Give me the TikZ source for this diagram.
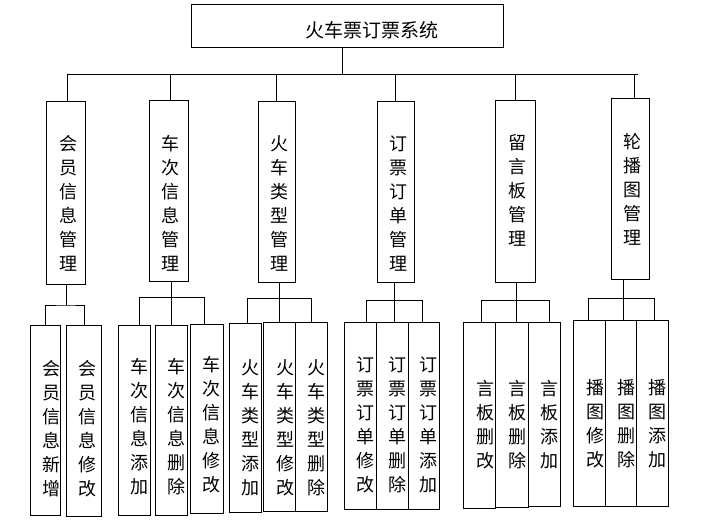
\documentclass[tikz,border=0pt]{standalone}
\usepackage{fontspec}
\newfontfamily\cjk{Noto Sans CJK SC}
\usetikzlibrary{fit,positioning}
\tikzset{
  bx/.style={draw=black,line width=1pt,inner sep=0pt,outer sep=0pt},
  vt/.style={align=center,inner sep=0pt,font=\cjk\fontsize{18}{24}\selectfont},
  ln/.style={draw=black,line width=1pt},
}
\begin{document}
\begin{tikzpicture}[x=1pt,y=-1pt]
\path[fill=white,use as bounding box] (0,0) rectangle (711,528);
% top
\node[bx,fit={(191.8,4.3)(503.6,47.3)}] (top) {};
\node[vt,font=\cjk\fontsize{19}{24}\selectfont] (topt) at (372,30) {火车票订票系统};
% modules
\node[bx,fit={(46.3,101.3)(85.7,284.3)}]   (hy) {};
\node[bx,fit={(149.3,100.3)(188.7,281.7)}] (cc) {};
\node[bx,fit={(258.3,101.3)(295.7,282.3)}] (hc) {};
\node[bx,fit={(377.3,101.3)(414.3,282.3)}] (dp) {};
\node[bx,fit={(495.3,100.3)(535.3,282.3)}] (ly) {};
\node[bx,fit={(611.3,98.3)(649.7,279.3)}]  (lb) {};
\node[vt] (hyt) at (68,203.3)    {会\\员\\信\\息\\管\\理};
\node[vt] (cct) at (170.7,203.3) {车\\次\\信\\息\\管\\理};
\node[vt] (hct) at (279,203.3)   {火\\车\\类\\型\\管\\理};
\node[vt] (dpt) at (398.7,203.3) {订\\票\\订\\单\\管\\理};
\node[vt] (lyt) at (517,190.7)   {留\\言\\板\\管\\理};
\node[vt] (lbt) at (632.3,189.2) {轮\\播\\图\\管\\理};
% functions
\node[bx,fit={(30.3,325.3)(60.3,515.3)}]   (hy1) {};
\node[bx,fit={(66.7,325.3)(101.3,516.3)}]  (hy2) {};
\node[bx,fit={(118.3,325.3)(150.3,515.3)}] (cc1) {};
\node[bx,fit={(155.3,325.3)(187.3,515.3)}] (cc2) {};
\node[bx,fit={(190.3,324.3)(223.3,513.3)}] (cc3) {};
\node[bx,fit={(229.3,323.3)(261.3,512.3)}] (hc1) {};
\node[bx,fit={(263.7,322.3)(295.7,511)}]   (hc2) {};
\node[bx,fit={(295.7,322.3)(327.3,511)}]   (hc3) {};
\node[bx,fit={(344.3,322.3)(376.3,509.3)}] (dp1) {};
\node[bx,fit={(376.3,322.3)(408.3,509.3)}] (dp2) {};
\node[bx,fit={(408.3,322.3)(439.3,509.3)}] (dp3) {};
\node[bx,fit={(463.7,322.3)(495.3,508.3)}] (ly1) {};
\node[bx,fit={(495.3,322.3)(528.7,507.3)}] (ly2) {};
\node[bx,fit={(528.7,322.3)(560.3,506.3)}] (ly3) {};
\node[bx,fit={(573.7,320.7)(605.3,506.3)}] (lb1) {};
\node[bx,fit={(605.3,320.7)(636.3,506.3)}] (lb2) {};
\node[bx,fit={(636.3,320.7)(668.3,506.3)}] (lb3) {};
\node[vt] (hy1t) at (51.7,428.3)  {会\\员\\信\\息\\新\\增};
\node[vt] (hy2t) at (87.3,428.3)  {会\\员\\信\\息\\修\\改};
\node[vt] (cc1t) at (139.3,426.7) {车\\次\\信\\息\\添\\加};
\node[vt] (cc2t) at (176,426.7)   {车\\次\\信\\息\\删\\除};
\node[vt] (cc3t) at (211.7,425)   {车\\次\\信\\息\\修\\改};
\node[vt] (hc1t) at (250.7,427.5) {火\\车\\类\\型\\添\\加};
\node[vt] (hc2t) at (285,427.5)   {火\\车\\类\\型\\修\\改};
\node[vt] (hc3t) at (316,427.5)   {火\\车\\类\\型\\删\\除};
\node[vt] (dp1t) at (365.7,425)   {订\\票\\订\\单\\修\\改};
\node[vt] (dp2t) at (397.3,425)   {订\\票\\订\\单\\删\\除};
\node[vt] (dp3t) at (428.3,425)   {订\\票\\订\\单\\添\\加};
\node[vt] (ly1t) at (485.7,425)   {言\\板\\删\\改};
\node[vt] (ly2t) at (517.3,425)   {言\\板\\删\\除};
\node[vt] (ly3t) at (549.3,425)   {言\\板\\添\\加};
\node[vt] (lb1t) at (595,423.3)   {播\\图\\修\\改};
\node[vt] (lb2t) at (626.7,423.3) {播\\图\\删\\除};
\node[vt] (lb3t) at (657.3,423.3) {播\\图\\添\\加};
% main bus
\coordinate (bus) at (342,74);
\draw[ln] (top.south -| bus) -- (bus);
\draw[ln] ([xshift=1.5]hy.north |- bus) -- ([xshift=7]lb.north |- bus);
\foreach \m/\s in {hy/1.3,cc/1.7,hc/-0.7,dp/0,ly/0.4,lb/3.8}
  \draw[ln] ([xshift=\s]\m.north |- bus) -- ([xshift=\s]\m.north);
% sub buses
\draw[ln] ([xshift=0.7]hy.south) -- ++(0,20.7) coordinate (hyb);
\draw[ln] (hy1.north) |- (hyb) -| (hy2.north);
\draw[ln] ([xshift=2.3]cc.south) -- ++(0,15.8) coordinate (ccb);
\draw[ln] ([xshift=5]cc1.north) |- (ccb) -| ([xshift=-2.8]cc3.north);
\draw[ln] (ccb) -- (ccb |- cc2.north);
\draw[ln] ([xshift=2.3]hc.south) -- ++(0,16) coordinate (hcb);
\draw[ln] ([xshift=2.4]hc1.north) |- (hcb) -| (hc3.north);
\draw[ln] (hcb) -- (hcb |- hc2.north);
\draw[ln] ([xshift=-1.5]dp.south) -- ++(0,18.4) coordinate (dpb);
\draw[ln] ([xshift=6]dp1.north) |- (dpb) -| ([xshift=-1.5]dp3.north);
\draw[ln] (dpb) -- (dpb |- dp2.north);
\draw[ln] ([xshift=1]ly.south) -- ++(0,18.4) coordinate (lyb);
\draw[ln] ([xshift=2.2]ly1.north) |- (lyb) -| ([xshift=4.8]ly3.north);
\draw[ln] (lyb) -- (lyb |- ly2.north);
\draw[ln] ([xshift=-7.2]lb.south) -- ++(0,19) coordinate (lbb);
\draw[ln] ([xshift=-1.2]lb1.north) |- (lbb) -| ([xshift=2]lb3.north);
\draw[ln] (lbb) -- (lbb |- lb2.north);
\end{tikzpicture}
\end{document}
